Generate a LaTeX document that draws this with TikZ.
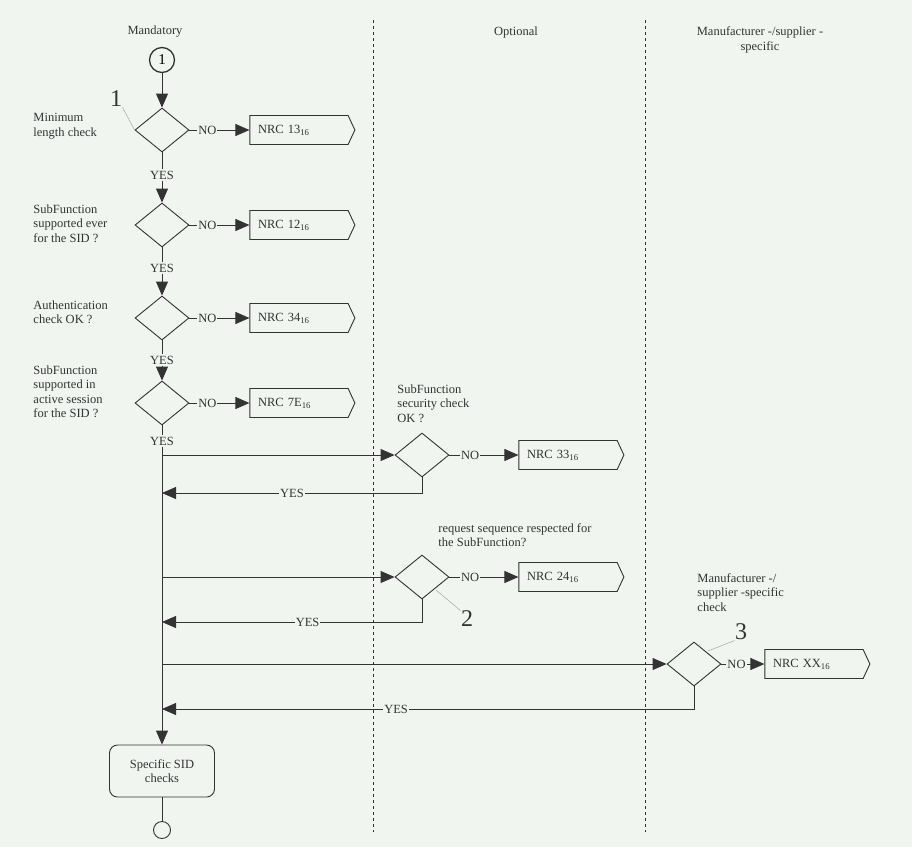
\documentclass[tikz,border=0pt]{standalone}
\usepackage{fontspec}
\setmainfont{Liberation Serif}
\usetikzlibrary{shapes.geometric,shapes.symbols,arrows.meta}
\definecolor{bg}{HTML}{F0F5F0}
\definecolor{ln}{HTML}{333333}
\begin{document}
\begin{tikzpicture}[x=1pt,y=-1pt,
  font=\fontsize{12.5}{14.5}\selectfont,
  line width=0.9pt,draw=ln,
  arr/.style={-{Triangle[length=14pt,width=12pt]}},
  dia/.style={diamond,draw=ln,line width=0.9pt,minimum width=54pt,minimum height=44pt,inner sep=0pt},
  nrc/.style={signal,signal to=east,signal pointer angle=130,draw=ln,line width=0.9pt,minimum width=105pt,minimum height=29pt,inner sep=0pt,text width=82pt,align=left,text=ln},
  lbl/.style={align=left,anchor=north west,inner sep=0pt,text=ln},
  lab/.style={fill=bg,inner sep=1pt,text=ln},
  call/.style={font=\fontsize{24}{24}\selectfont,text=ln,inner sep=0pt},
  lead/.style={draw=gray!70,line width=0.5pt}]
\fill[bg] (0,0) rectangle (912,847);
\useasboundingbox (0,0) rectangle (912,847);
% headers
\node[text=ln] (h1) at (155,32) {Mandatory};
\node[text=ln] (h2) at (516,32) {Optional};
\node[text=ln,align=center] (h3) at (760,40) {Manufacturer -/supplier -\\specific};
\draw[ln,dashed,line width=0.6pt] (373,20) -- (373,832);
\draw[ln,dashed,line width=0.6pt] (645,20) -- (645,832);
% start
\node[circle,draw=ln,line width=1.3pt,minimum size=25pt,inner sep=0pt,font=\fontsize{15}{15}\selectfont] (s) at (162,60) {1};
\node[dia] (d1) at (162,130) {};
\node[dia] (d2) at (162,225) {};
\node[dia] (d3) at (162,318) {};
\node[dia] (d4) at (162,403) {};
\node[lab] (y1) at (162,175) {YES};
\node[lab] (y2) at (162,268) {YES};
\node[lab] (y3) at (162,360) {YES};
\node[lab] (y4) at (162,441) {YES};
\draw[ln,arr] (s) -- (d1);
\draw[ln] (d1) -- (y1); \draw[ln,arr] (y1) -- (d2);
\draw[ln] (d2) -- (y2); \draw[ln,arr] (y2) -- (d3);
\draw[ln] (d3) -- (y3); \draw[ln,arr] (y3) -- (d4);
\draw[ln] (d4) -- (y4);
\node[lbl] (l1) at (33,113) {Minimum\\length check};
\node[lbl] (l2) at (33,204) {SubFunction\\supported ever\\for the SID ?};
\node[lbl] (l3) at (33,300) {Authentication\\check OK ?};
\node[lbl] (l4) at (33,365) {SubFunction\\supported in\\active session\\for the SID ?};
\node[nrc] (n1) at (299,130) {NRC 13\textsubscript{16}};
\node[nrc] (n2) at (299,225) {NRC 12\textsubscript{16}};
\node[nrc] (n3) at (299,318) {NRC 34\textsubscript{16}};
\node[nrc] (n4) at (299,403) {NRC 7E\textsubscript{16}};
\foreach \d/\n in {d1/n1,d2/n2,d3/n3,d4/n4}
  \draw[ln,arr] (\d.east) -- node[lab,pos=0.3]{NO} (\n.west);
\node[call] (c1) at (116,99) {1};
\draw[lead] (c1.south east) -- (d1.west);
% main trunk
\coordinate (t5) at (162,455);
\coordinate (r5) at (162,493);
\coordinate (t6) at (162,577);
\coordinate (r6) at (162,622);
\coordinate (t7) at (162,664);
\coordinate (r7) at (162,709);
\node[draw=ln,line width=0.9pt,rounded corners=8pt,minimum width=105pt,minimum height=52pt,align=center,text=ln] (sp) at (162,771) {Specific SID\\checks};
\node[circle,draw=ln,line width=0.9pt,minimum size=17pt,inner sep=0pt] (e) at (162,830) {};
\draw[ln,arr] (y4) -- (sp);
\draw[ln] (sp) -- (e);
% optional 1
\node[dia] (d5) at (422,455) {};
\node[nrc] (n5) at (568,455) {NRC 33\textsubscript{16}};
\draw[ln,arr] (t5) -- (d5);
\draw[ln,arr] (d5.east) -- node[lab,pos=0.3]{NO} (n5.west);
\draw[ln,arr] (d5.south) |- node[lab,pos=0.75]{YES} (r5);
\node[lbl] (l5) at (397,384) {SubFunction\\security check\\OK ?};
% optional 2
\node[dia] (d6) at (422,577) {};
\node[nrc] (n6) at (568,577) {NRC 24\textsubscript{16}};
\draw[ln,arr] (t6) -- (d6);
\draw[ln,arr] (d6.east) -- node[lab,pos=0.3]{NO} (n6.west);
\draw[ln,arr] (d6.south) |- node[lab,pos=0.72]{YES} (r6);
\node[lbl] (l6) at (438,523) {request sequence respected for\\the SubFunction?};
\node[call] (c2) at (467,619) {2};
\draw[lead] (c2.north west) -- (436,590);
% manufacturer
\node[dia] (d7) at (694,664) {};
\node[nrc] (n7) at (814,664) {NRC XX\textsubscript{16}};
\draw[ln,arr] (t7) -- (d7);
\draw[ln,arr] (d7.east) -- node[lab,pos=0.35]{NO} (n7.west);
\draw[ln,arr] (d7.south) |- node[lab,pos=0.78]{YES} (r7);
\node[lbl] (l7) at (697,573) {Manufacturer -/\\supplier -specific\\check};
\node[call] (c3) at (741,632) {3};
\draw[lead] (c3.south west) -- (708,651);
\end{tikzpicture}
\end{document}
